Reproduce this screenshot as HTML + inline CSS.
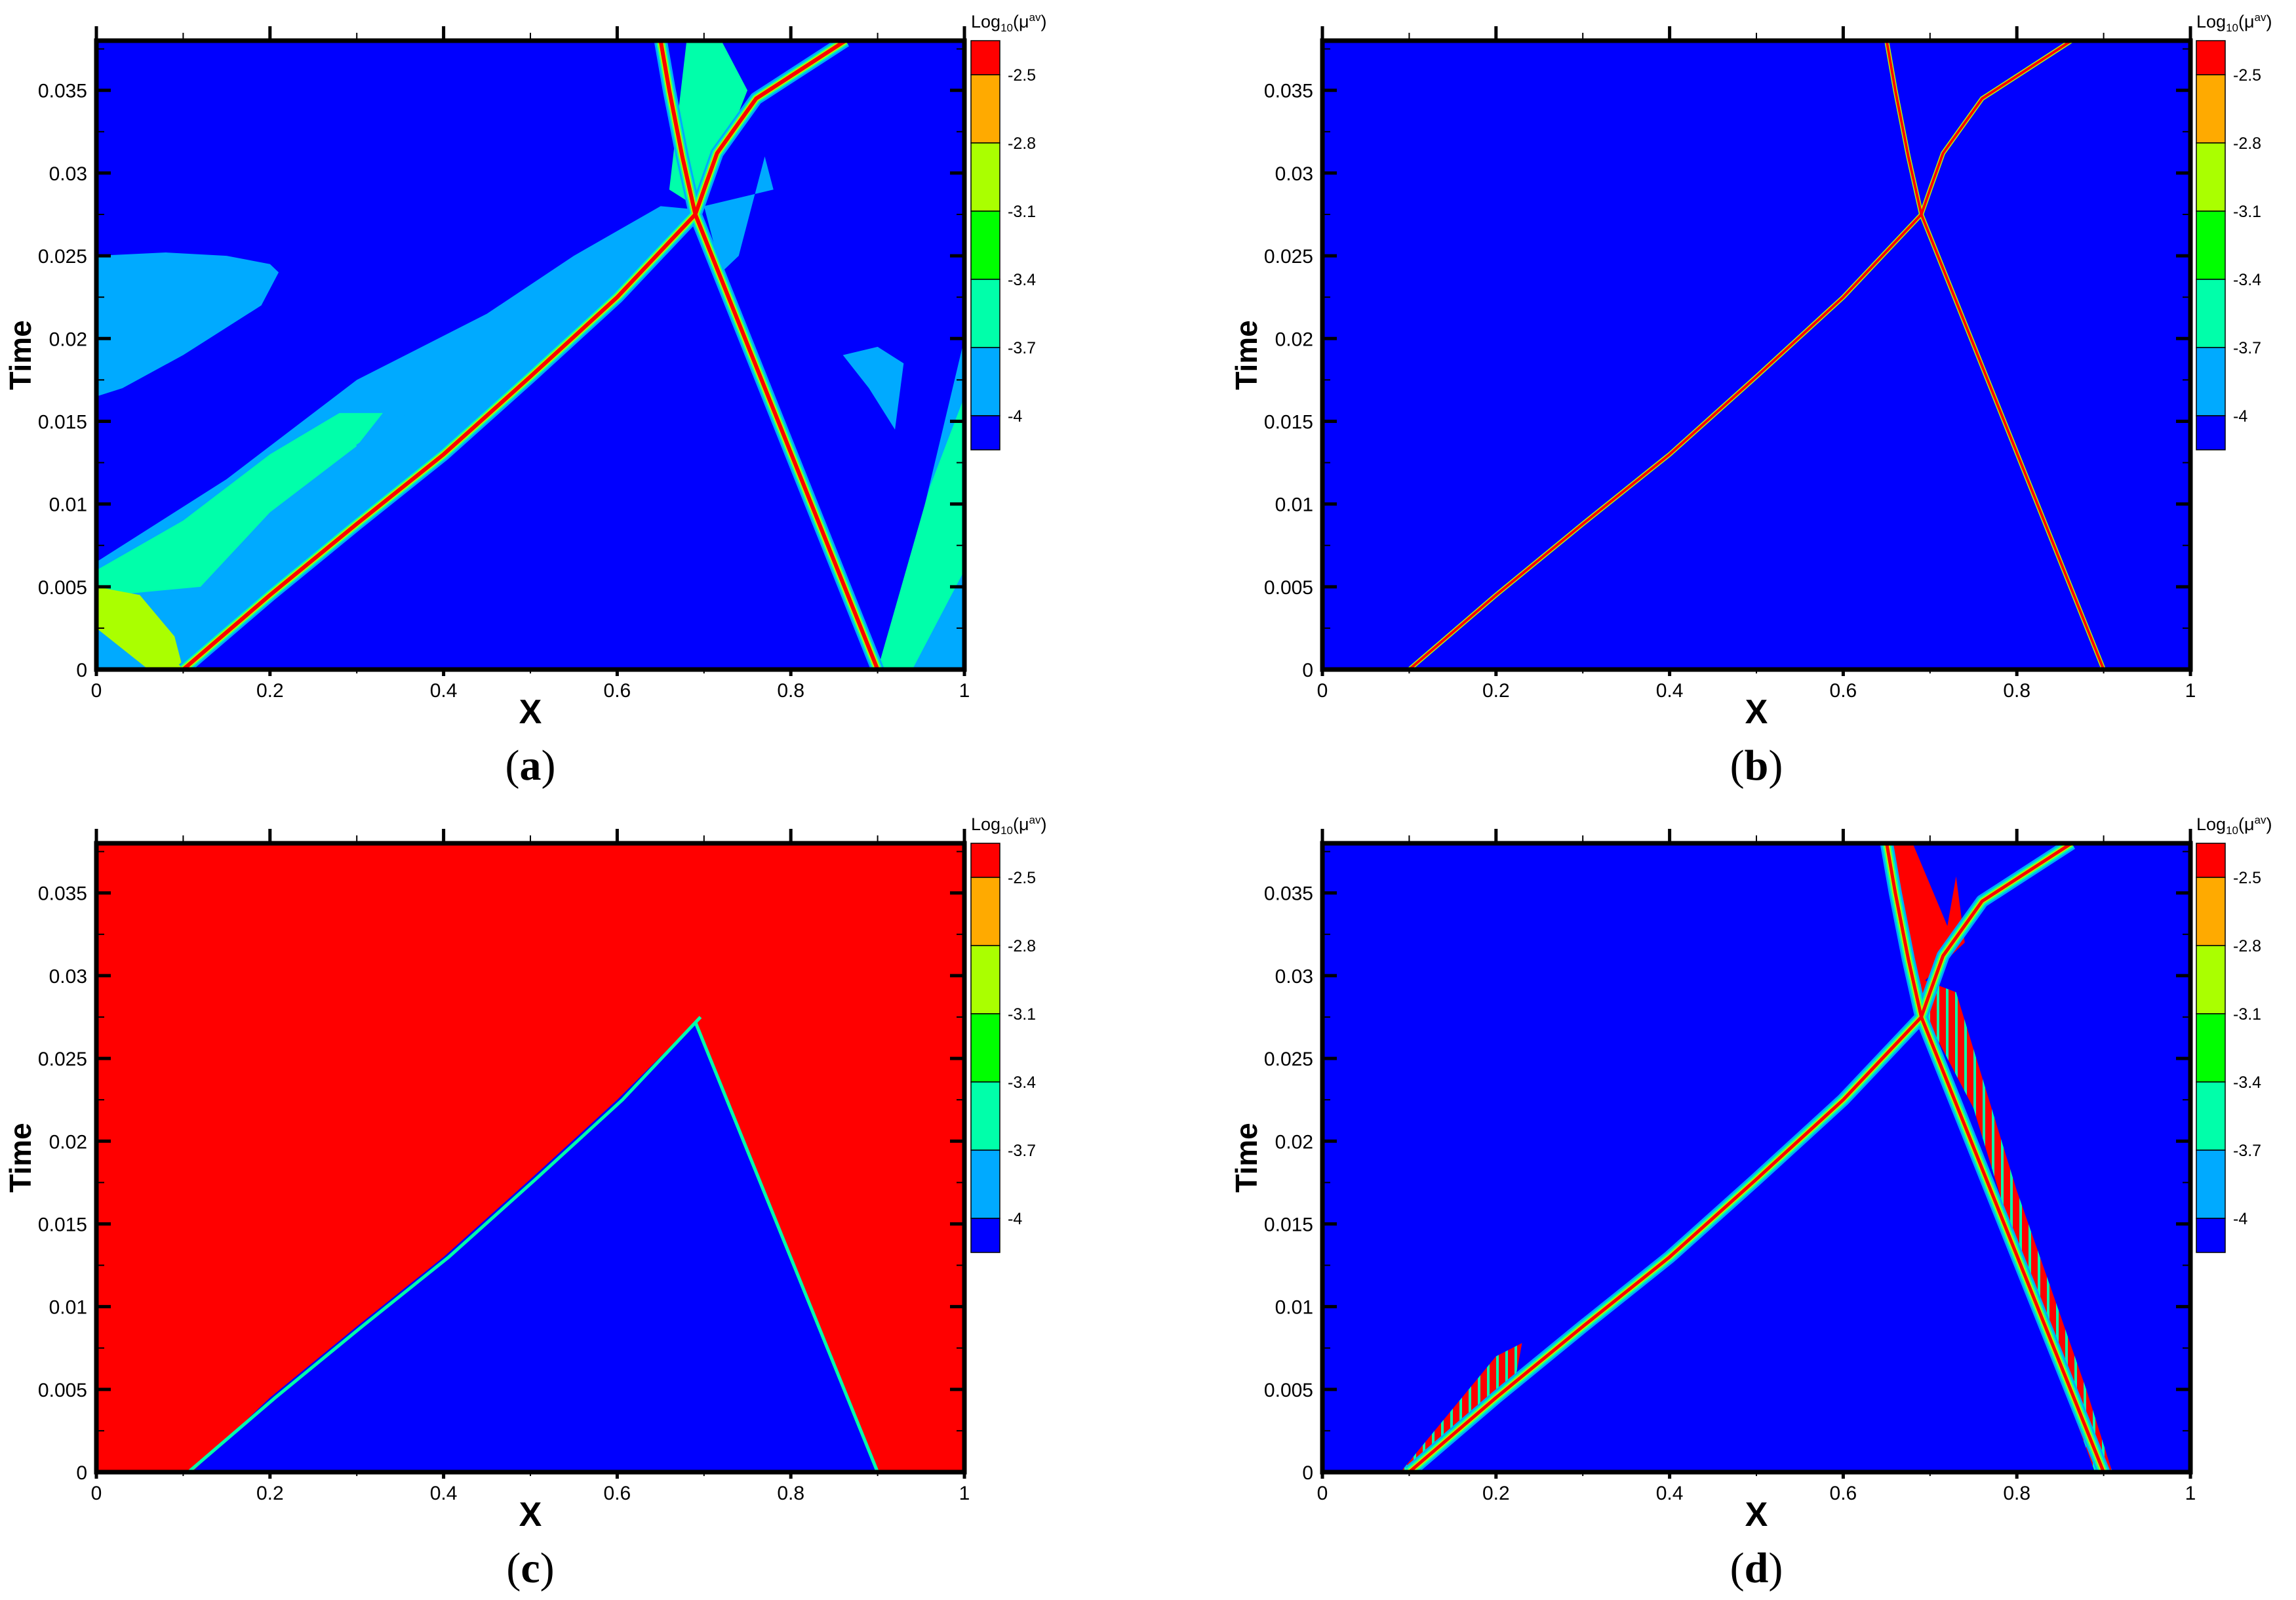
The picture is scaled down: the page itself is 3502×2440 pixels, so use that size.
<!DOCTYPE html>
<html><head><meta charset="utf-8"><style>
html,body{margin:0;padding:0;background:#fff;}
svg{display:block;}
text{font-family:"Liberation Sans",sans-serif;}
</style></head><body>
<svg id="fig" width="3502" height="2440" viewBox="0 0 3502 2440" xmlns="http://www.w3.org/2000/svg">
<defs>
<pattern id="stripes" patternUnits="userSpaceOnUse" width="14" height="14">
<rect x="0" y="0" width="14" height="14" fill="#ff0000"/>
<rect x="0" y="0" width="4" height="14" fill="#00ffaa"/>
</pattern>
</defs>
</svg>
<script>
// ---- data ----
const xTicks = [0, 0.2, 0.4, 0.6, 0.8, 1];
const xTickLabels = ["0", "0.2", "0.4", "0.6", "0.8", "1"];
const yTicks = [0, 0.005, 0.01, 0.015, 0.02, 0.025, 0.03, 0.035];
const yTickLabels = ["0", "0.005", "0.01", "0.015", "0.02", "0.025", "0.03", "0.035"];
const levelLabels = ["-2.5", "-2.8", "-3.1", "-3.4", "-3.7", "-4"];
const levelColors = ["#ff0000", "#ffaa00", "#aaff00", "#00ff00", "#00ffaa", "#00aaff", "#0000ff"];
const panelLetters = ["a", "b", "c", "d"];
// shock paths (x, time)
const leftShockX = [0.1, 0.2, 0.3, 0.4, 0.5, 0.6, 0.69];
const leftShockT = [0, 0.0045, 0.0088, 0.0130, 0.0177, 0.0225, 0.0275];
const rightShockX = [0.9, 0.69];
const rightShockT = [0, 0.0275];
const afterLeftX = [0.69, 0.675, 0.66, 0.65];
const afterLeftT = [0.0275, 0.031, 0.035, 0.038];
const afterRightX = [0.69, 0.70, 0.715, 0.76, 0.863];
const afterRightT = [0.0275, 0.029, 0.0312, 0.0345, 0.038];
// panel (a) regions
const regTopLeftX = [0, 0, 0.08, 0.15, 0.2, 0.21, 0.19, 0.1, 0.03];
const regTopLeftT = [0.0165, 0.025, 0.0252, 0.025, 0.0245, 0.024, 0.022, 0.019, 0.017];
const regBandX = [0, 0.15, 0.3, 0.45, 0.55, 0.65, 0.69, 0.6, 0.5, 0.4, 0.3, 0.2, 0.1, 0];
const regBandT = [0.0065, 0.0115, 0.0175, 0.0215, 0.025, 0.028, 0.0278, 0.0225, 0.0177, 0.013, 0.0088, 0.0045, 0, 0];
const regGreenX = [0, 0.1, 0.2, 0.28, 0.33, 0.3, 0.2, 0.12, 0.02, 0];
const regGreenT = [0.006, 0.009, 0.013, 0.0155, 0.0155, 0.0135, 0.0095, 0.005, 0.0045, 0.004];
const regLowX = [0, 0.05, 0.09, 0.1, 0.06, 0];
const regLowT = [0.005, 0.0045, 0.002, 0, 0, 0.0025];
const regRightFanX = [0.9, 0.95, 1, 1];
const regRightFanT = [0, 0.009, 0.02, 0];
const regRightInX = [0.9, 0.96, 1, 1, 0.94];
const regRightInT = [0, 0.011, 0.0165, 0.006, 0];
const regBlobX = [0.86, 0.9, 0.93, 0.92, 0.89];
const regBlobT = [0.019, 0.0195, 0.0185, 0.0145, 0.017];
const regTopX = [0.66, 0.68, 0.72, 0.75, 0.72, 0.69];
const regTopT = [0.029, 0.038, 0.038, 0.035, 0.031, 0.028];
const regTopBlueX = [0.7, 0.78, 0.77, 0.74, 0.72];
const regTopBlueT = [0.028, 0.029, 0.031, 0.025, 0.024];
// panel (c) region: red above shocks
const cBoundX = [0, 0.11, 0.2, 0.3, 0.4, 0.5, 0.6, 0.69, 0.9, 1, 1, 0];
const cBoundT = [0, 0, 0.0045, 0.0088, 0.013, 0.0177, 0.0225, 0.0272, 0, 0, 0.038, 0.038];
// panel (d) jagged regions
const dLowX = [0.09, 0.2, 0.23, 0.22, 0.12, 0.1];
const dLowT = [0, 0.007, 0.0078, 0.005, 0.0008, 0];
const dRightX = [0.68, 0.73, 0.8, 0.88, 0.91, 0.89, 0.82, 0.75, 0.7];
const dRightT = [0.03, 0.029, 0.017, 0.005, 0, 0, 0.01, 0.022, 0.027];
const dTopX = [0.65, 0.68, 0.72, 0.73, 0.74, 0.70, 0.68];
const dTopT = [0.038, 0.038, 0.033, 0.036, 0.032, 0.03, 0.029];

// ---- layout ----
const NS = "http://www.w3.org/2000/svg";
const svg = document.getElementById("fig");
const panels = [
  {x0: 147, y0: 62, cb: 1481},
  {x0: 2017, y0: 62, cb: 3350},
  {x0: 147, y0: 1286, cb: 1481},
  {x0: 2017, y0: 1286, cb: 3350}
];
const W = 1324, H = 959, TMAX = 0.038;

function mk(tag, attrs, parent) {
  const e = document.createElementNS(NS, tag);
  for (const k in attrs) e.setAttribute(k, attrs[k]);
  (parent || svg).appendChild(e);
  return e;
}
function sx(p, v) { return p.x0 + v * W; }
function sy(p, t) { return p.y0 + H - t / TMAX * H; }
function pts(p, xs, ts) { return xs.map((v, i) => sx(p, v) + "," + sy(p, ts[i])).join(" "); }
function poly(p, xs, ts, fill, g, name) {
  const e = mk("polygon", {points: pts(p, xs, ts), fill: fill}, g);
  
  
  return e;
}
function line(p, xs, ts, stroke, w, g, name) {
  const e = mk("polyline", {points: pts(p, xs, ts), fill: "none", stroke: stroke, "stroke-width": w, "stroke-linejoin": "round"}, g);
  
  
  return e;
}
function shockLayered(p, g, widths, colors) {
  const paths = [[leftShockX, leftShockT], [rightShockX, rightShockT], [afterLeftX, afterLeftT], [afterRightX, afterRightT]];
  widths.forEach((w, k) => {
    paths.forEach(([xs, ts]) => line(p, xs, ts, colors[k], w, g, "shock-line"));
  });
}

panels.forEach((p, i) => {
  const g = mk("g", {});
  
  
  const clipId = "clip" + i;
  const cp = mk("clipPath", {id: clipId}, g);
  mk("rect", {x: p.x0, y: p.y0, width: W, height: H}, cp);
  const plot = mk("g", {"clip-path": "url(#" + clipId + ")"}, g);
  
  
  const bg = mk("rect", {x: p.x0, y: p.y0, width: W, height: H, fill: "#0000ff"}, plot);
  
  

  if (i === 0) {
    poly(p, regTopLeftX, regTopLeftT, "#00aaff", plot, "region-upper-left");
    poly(p, regBandX, regBandT, "#00aaff", plot, "region-band");
    poly(p, regGreenX, regGreenT, "#00ffaa", plot, "region-green");
    poly(p, regLowX, regLowT, "#aaff00", plot, "region-low");
    poly(p, regRightFanX, regRightFanT, "#00aaff", plot, "region-right-fan");
    poly(p, regRightInX, regRightInT, "#00ffaa", plot, "region-right-inner");
    poly(p, regBlobX, regBlobT, "#00aaff", plot, "region-blob");
    poly(p, regTopBlueX, regTopBlueT, "#00aaff", plot, "region-top-blue");
    poly(p, regTopX, regTopT, "#00ffaa", plot, "region-top");
    line(p, [0.3, 0.69], [0.0135, 0.0275], "#00aaff", 4, plot, "weak-wave");
    shockLayered(p, plot, [20, 14, 10, 6], ["#00aaff", "#00ffaa", "#aaff00", "#ff0000"]);
  } else if (i === 1) {
    shockLayered(p, plot, [7, 4], ["#aaff00", "#ff0000"]);
  } else if (i === 2) {
    poly(p, cBoundX, cBoundT, "#ff0000", plot, "region-high-viscosity");
    line(p, leftShockX.map(v => v + 0.006), leftShockT, "#00ffaa", 5, plot, "boundary-line");
    line(p, [0.9, 0.69], [0, 0.0272], "#00ffaa", 5, plot, "boundary-line");
  } else {
    poly(p, dRightX, dRightT, "url(#stripes)", plot, "region-oscillation");
    poly(p, dLowX, dLowT, "url(#stripes)", plot, "region-low-oscillation");
    poly(p, dTopX, dTopT, "#ff0000", plot, "region-top-oscillation");
    shockLayered(p, plot, [20, 14, 9, 5], ["#00aaff", "#00ffaa", "#aaff00", "#ff0000"]);
  }

  // frame
  const fr = mk("rect", {x: p.x0, y: p.y0, width: W, height: H, fill: "none", stroke: "#000", "stroke-width": 7}, g);
  
  
  // x ticks
  for (let k = 0; k <= 10; k++) {
    const v = k / 10, major = k % 2 === 0;
    const X = sx(p, v);
    mk("line", {x1: X, y1: p.y0 + H, x2: X, y2: p.y0 + H + (major ? 10 : 6), stroke: "#000", "stroke-width": major ? 5 : 2}, g);
    mk("line", {x1: X, y1: p.y0, x2: X, y2: p.y0 - (major ? 22 : 12), stroke: "#000", "stroke-width": major ? 5 : 2}, g);
  }
  xTicks.forEach((v, k) => {
    const t = mk("text", {x: sx(p, v), y: p.y0 + H + 42, "font-size": 30, "text-anchor": "middle"}, g);
    t.textContent = xTickLabels[k];
    
    
  });
  // y ticks
  for (let k = 0; k <= 15; k++) {
    const tv = k * 0.0025, major = k % 2 === 0;
    const Y = sy(p, tv), L = major ? 22 : 12;
    mk("line", {x1: p.x0, y1: Y, x2: p.x0 + L, y2: Y, stroke: "#000", "stroke-width": major ? 5 : 2}, g);
    mk("line", {x1: p.x0 + W, y1: Y, x2: p.x0 + W - L, y2: Y, stroke: "#000", "stroke-width": major ? 5 : 2}, g);
  }
  yTicks.forEach((v, k) => {
    const t = mk("text", {x: p.x0 - 14, y: sy(p, v) + 11, "font-size": 30, "text-anchor": "end"}, g);
    t.textContent = yTickLabels[k];
    
    
  });
  // axis titles
  const xt = mk("text", {x: p.x0 + W / 2, y: p.y0 + H + 82, "font-size": 52, "font-weight": "bold", "text-anchor": "middle"}, g);
  xt.textContent = "X";
  
  
  const yx = p.x0 - 100, yy = p.y0 + H / 2;
  const ytl = mk("text", {x: yx, y: yy, "font-size": 46, "font-weight": "bold", "text-anchor": "middle", transform: "rotate(-90 " + yx + " " + yy + ")"}, g);
  ytl.textContent = "Time";
  
  
  // panel letter
  const pl = mk("text", {x: p.x0 + W / 2, y: p.y0 + H + 168, "font-size": 66, "text-anchor": "middle", style: "font-family:'Liberation Serif',serif"}, g);
  pl.innerHTML = '(<tspan font-weight="bold">' + panelLetters[i] + '</tspan>)';
  
  

  // colorbar: half-size end blocks, full inner blocks
  const cbg = mk("g", {}, g);
  
  
  const unit = 104, bw = 44;
  let yc = p.y0;
  levelColors.forEach((c, k) => {
    const h = (k === 0 || k === levelColors.length - 1) ? unit / 2 : unit;
    const r = mk("rect", {x: p.cb, y: yc, width: bw, height: h, fill: c, stroke: "#000", "stroke-width": 1.5}, cbg);
    
    
    yc += h;
  });
  levelLabels.forEach((s, k) => {
    const t = mk("text", {x: p.cb + bw + 12, y: p.y0 + unit / 2 + k * unit + 9, "font-size": 25}, cbg);
    t.textContent = s;
    
    
  });
  const ct = mk("text", {x: p.cb, y: p.y0 - 20, "font-size": 27}, cbg);
  ct.innerHTML = 'Log<tspan font-size="17" dy="6">10</tspan><tspan dy="-6">(μ</tspan><tspan font-size="17" dy="-10">av</tspan><tspan dy="10">)</tspan>';
  
  
});
</script>
</body></html>
